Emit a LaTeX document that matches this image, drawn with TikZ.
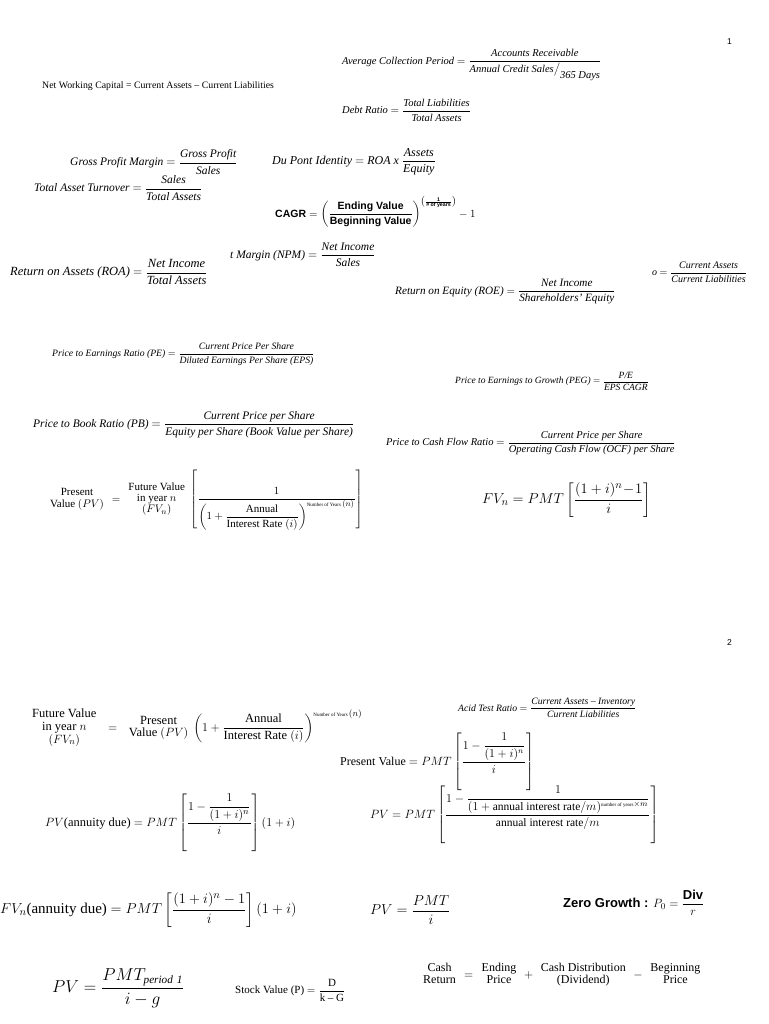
\documentclass[tikz,border=0pt]{standalone}
\usepackage{amsmath}
\usepackage{fontspec}
\setmainfont{Liberation Serif}
\setsansfont{Liberation Sans}
\newcommand{\fs}[1]{\fontsize{#1}{#1}\selectfont}
\begin{document}
\begin{tikzpicture}[x=1pt,y=-1pt,
  f/.style={anchor=west,inner sep=0pt,font=\fs{8.5}}]
\useasboundingbox[fill=white] (0,0) rectangle (768,1024);
\node[f] (p1) at (727,42) {\sffamily 1};
\node[f,font=\fs{10.5}] (acp) at (342,65) {\textit{Average Collection Period} $=\dfrac{\textit{Accounts Receivable}}{\textit{Annual Credit Sales}\big/\raisebox{-1.2ex}{\textit{365 Days}}}$};
\node[f,font=\fs{9.8}] (nwc) at (42,86) {Net Working Capital = Current Assets -- Current Liabilities};
\node[f,font=\fs{10.5}] (dr) at (342,110) {\textit{Debt Ratio} $=\dfrac{\textit{Total Liabilities}}{\textit{Total Assets}}$};
\node[f,font=\fs{11.5}] (gpm) at (70,162) {\textit{Gross Profit Margin} $=\dfrac{\textit{Gross Profit}}{\textit{Sales}}$};
\node[f,font=\fs{12}] (dpi) at (272,162) {\textit{Du Pont Identity} $=$ \textit{ROA x} $\dfrac{\textit{Assets}}{\textit{Equity}}$};
\node[f,font=\fs{11.5}] (tat) at (34,188) {\textit{Total Asset Turnover} $=\dfrac{\textit{Sales}}{\textit{Total Assets}}$};
\node[f,font=\fs{10.5}] (cagr) at (275,212) {\sffamily\bfseries CAGR $=\left(\dfrac{\textsf{\textbf{Ending Value}}}{\textsf{\textbf{Beginning Value}}}\right)^{\left(\frac{\textsf{\textbf{1}}}{\textsf{\textbf{\# of years}}}\right)}-1$};
\node[f,font=\fs{11.5}] (npm) at (230,255) {\textit{t Margin (NPM)} $=\dfrac{\textit{Net Income}}{\textit{Sales}}$};
\node[f,font=\fs{12.5}] (roa) at (10,272) {\textit{Return on Assets (ROA)} $=\dfrac{\textit{Net Income}}{\textit{Total Assets}}$};
\node[f,font=\fs{10}] (cr) at (652,272) {\textit{o} $=\dfrac{\textit{Current Assets}}{\textit{Current Liabilities}}$};
\node[f,font=\fs{11.2}] (roe) at (395,292) {\textit{Return on Equity (ROE)} $=\dfrac{\textit{Net Income}}{\textit{Shareholders' Equity}}$};
\node[f,font=\fs{9.7}] (pe) at (52,354) {\textit{Price to Earnings Ratio (PE)} $=\dfrac{\textit{Current Price Per Share}}{\textit{Diluted Earnings Per Share (EPS)}}$};
\node[f,font=\fs{9.5}] (peg) at (455,381) {\textit{Price to Earnings to Growth (PEG)} $=\dfrac{\textit{P/E}}{\textit{EPS CAGR}}$};
\node[f,font=\fs{11.5}] (pb) at (33,425) {\textit{Price to Book Ratio (PB)} $=\dfrac{\textit{Current Price per Share}}{\textit{Equity per Share (Book Value per Share)}}$};
\node[f,font=\fs{10.5}] (pcf) at (386,443) {\textit{Price to Cash Flow Ratio} $=\dfrac{\textit{Current Price per Share}}{\textit{Operating Cash Flow (OCF) per Share}}$};
\node[f,font=\fs{11}] (pv1) at (45,500) {$\begin{array}{c}\text{Present}\\\text{Value }(PV)\end{array}=\begin{array}{c}\text{Future Value}\\\text{in year }n\\(FV_n)\end{array}\!\left[\dfrac{1}{\left(1+\dfrac{\text{Annual}}{\text{Interest Rate }(i)}\right)^{\text{\tiny Number of Years }(n)}}\right]$};
\node[f,font=\fs{15}] (fvn) at (482,500) {$FV_n=PMT\left[\dfrac{(1+i)^n\!-\!1}{i}\right]$};
\node[f] (p2) at (727,643) {\sffamily 2};
\node[f,font=\fs{12.5}] (fv) at (27,728) {$\begin{array}{c}\text{Future Value}\\\text{in year }n\\(FV_n)\end{array}\;=\;\begin{array}{c}\text{Present}\\\text{Value }(PV)\end{array}\!\left(1+\dfrac{\text{Annual}}{\text{Interest Rate }(i)}\right)^{\text{\tiny Number of Years }(n)}$};
\node[f,font=\fs{9.7}] (atr) at (458,708) {\textit{Acid Test Ratio} $=\dfrac{\textit{Current Assets -- Inventory}}{\textit{Current Liabilities}}$};
\node[f,font=\fs{12}] (pva) at (340,762) {Present Value $=PMT\left[\dfrac{1-\dfrac{1}{(1+i)^n}}{i}\right]$};
\node[f,font=\fs{12.5}] (pvad) at (45,823) {$PV$(annuity due) $=PMT\left[\dfrac{1-\dfrac{1}{(1+i)^n}}{i}\right](1+i)$};
\node[f,font=\fs{11.5}] (pvm) at (370,815) {$PV=PMT\left[\dfrac{1-\dfrac{1}{(1+\text{annual interest rate}/m)^{\text{\tiny number of years}\times m}}}{\text{annual interest rate}/m}\right]$};
\node[f,font=\fs{15}] (fvad) at (0,910) {$FV_n$(annuity due) $=PMT\left[\dfrac{(1+i)^n-1}{i}\right](1+i)$};
\node[f,font=\fs{15}] (pvp) at (370,910) {$PV=\dfrac{PMT}{i}$};
\node[f,font=\fs{13}] (zg) at (563,903) {\sffamily\bfseries Zero Growth : $P_0=\dfrac{\textsf{\textbf{Div}}}{r}$};
\node[f,font=\fs{16}] (pvg) at (52,988) {$PV=\dfrac{PMT_{\mathit{period\ 1}}}{i-g}$};
\node[f,font=\fs{11}] (sv) at (235,990) {Stock Value (P) $=\dfrac{\text{D}}{\text{k -- G}}$};
\node[f,font=\fs{12}] (cret) at (418,975) {$\begin{array}{c}\text{Cash}\\\text{Return}\end{array}=\begin{array}{c}\text{Ending}\\\text{Price}\end{array}+\begin{array}{c}\text{Cash Distribution}\\\text{(Dividend)}\end{array}-\begin{array}{c}\text{Beginning}\\\text{Price}\end{array}$};
\end{tikzpicture}
\end{document}
